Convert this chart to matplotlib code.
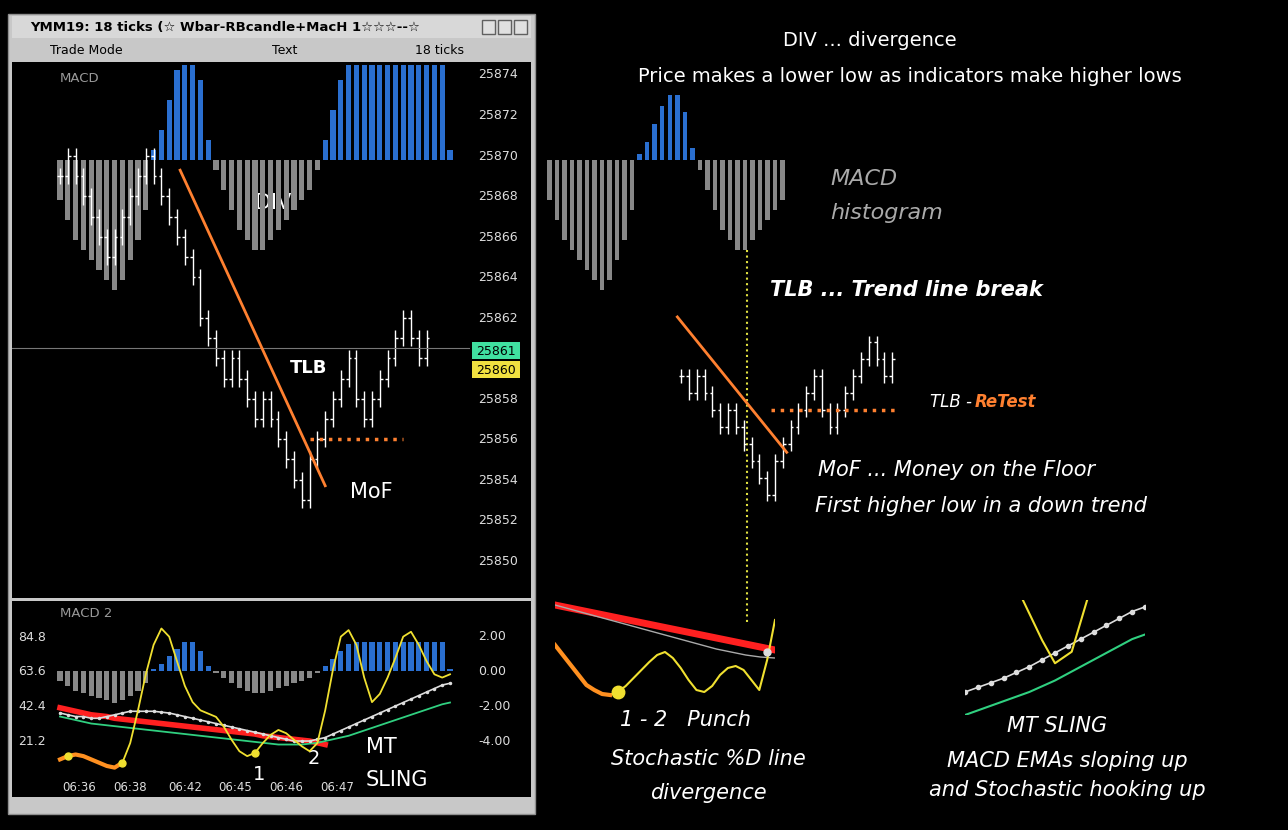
import matplotlib
matplotlib.use("Agg")
import matplotlib.pyplot as plt
from matplotlib.patches import Rectangle

W, H = 1288, 830

# price closes, main chart (one per bar)
closes = [25869, 25870, 25869, 25868, 25867, 25866, 25865, 25866, 25867, 25868,
          25869, 25870, 25869, 25868, 25867, 25866, 25865, 25864, 25862, 25861,
          25860, 25859, 25860, 25859, 25858, 25857, 25858, 25857, 25856, 25855,
          25854, 25853, 25855, 25856, 25857, 25858, 25859, 25860, 25858, 25857,
          25858, 25859, 25860, 25861, 25862, 25861, 25860, 25861]
# MACD histogram, main chart
hist = [-4, -6, -8, -9, -10, -11, -12, -13, -12, -10, -8, -5,
        1, 3, 6, 9, 12, 12, 8, 2,
        -1, -3, -5, -7, -8, -9, -9, -8, -7, -6, -5, -4, -3, -1,
        2, 5, 8, 11, 12, 12, 12, 12, 12, 12, 12, 12, 12, 12, 12, 12, 1]
# lower panel
hist2 = [h * 0.14 for h in hist]
stoch = [10, 12, 13, 12, 10, 8, 6, 5, 8, 20, 40, 62, 80, 90, 85, 70, 55, 45, 40,
         38, 36, 30, 22, 15, 12, 14, 20, 25, 28, 26, 22, 18, 15, 20, 40, 65, 85, 89,
         80, 60, 45, 50, 60, 72, 85, 88, 80, 70, 62, 60, 62]
ema_slow = [-2.1, -2.2, -2.3, -2.4, -2.5, -2.55, -2.6, -2.7, -2.75, -2.8, -2.85, -2.9,
            -2.95, -3.0, -3.05, -3.1, -3.15, -3.2, -3.25, -3.3, -3.35, -3.4, -3.45,
            -3.5, -3.55, -3.6, -3.7, -3.75, -3.8, -3.85, -3.9, -3.95, -4.0, -4.1, -4.2]
ema_fast = [-2.4, -2.5, -2.6, -2.6, -2.7, -2.7, -2.6, -2.5, -2.4, -2.3, -2.3, -2.3,
            -2.3, -2.35, -2.4, -2.5, -2.6, -2.7, -2.8, -2.9, -3.0, -3.1, -3.2, -3.3,
            -3.4, -3.5, -3.6, -3.7, -3.8, -3.9, -4.0, -4.0, -4.0, -3.9, -3.8, -3.6,
            -3.4, -3.2, -3.0, -2.8, -2.6, -2.4, -2.2, -2.0, -1.8, -1.6, -1.4, -1.2,
            -1.0, -0.8, -0.7]
ema_sig = [-2.6, -2.7, -2.8, -2.9, -3.0, -3.05, -3.1, -3.15, -3.2, -3.25, -3.3, -3.35,
           -3.4, -3.45, -3.5, -3.55, -3.6, -3.65, -3.7, -3.75, -3.8, -3.85, -3.9,
           -3.95, -4.0, -4.05, -4.1, -4.15, -4.2, -4.2, -4.2, -4.2, -4.15, -4.1, -4.0,
           -3.9, -3.8, -3.7, -3.55, -3.4, -3.25, -3.1, -2.95, -2.8, -2.65, -2.5, -2.35,
           -2.2, -2.05, -1.9, -1.8]
# right-hand zoomed stochastic (0 = top of panel, 100 = bottom)
punch_stoch = [45, 55, 65, 75, 85, 90, 94, 95, 92, 86, 78, 70, 62, 55, 52, 58, 68, 80,
               90, 92, 86, 75, 68, 66, 70, 80, 90, 60, 20]
punch_red = [5, 8, 11, 14, 17, 20, 23, 26, 29, 32, 35, 38, 41, 44, 47, 50]
punch_gray = [5, 9, 13, 17, 21, 25, 29, 33, 37, 41, 45, 49, 52, 55, 57, 58]
sling_white = [80, 76, 72, 68, 63, 58, 52, 46, 40, 34, 28, 22, 16, 10, 6]
sling_green = [100, 96, 92, 88, 84, 80, 75, 70, 64, 58, 52, 46, 40, 34, 30]
sling_yellow = [0, 35, 55, 45, 0]
price_ticks = [25874, 25872, 25870, 25868, 25866, 25864, 25862, 25858, 25856,
               25854, 25852, 25850]
stoch_ticks = [84.8, 63.6, 42.4, 21.2]
macd_ticks = [2.0, 0.0, -2.0, -4.0]
time_labels = ["06:36", "06:38", "06:42", "06:45", "06:46", "06:47"]
time_idx = [2.5, 9, 16, 22.5, 29, 35.5]

fig = plt.figure(figsize=(W / 100, H / 100), dpi=100, facecolor="black")


def px_axes(x0, y0, x1, y1, z=1):
    ax = fig.add_axes([x0 / W, 1 - y1 / H, (x1 - x0) / W, (y1 - y0) / H], zorder=z)
    ax.set_facecolor("none")
    ax.axis("off")
    return ax


def idx_lim(x0, x1, start=60, step=7.8):
    return ((x0 - start) / step, (x1 - start) / step)


def draw_bars(ax, vals, color="white"):
    prev = vals[0]
    for i, c in enumerate(vals):
        lo, hi = min(prev, c) - 0.4, max(prev, c) + 0.4
        ax.vlines(i, lo, hi, color=color, lw=1)
        ax.hlines(prev, i - 0.35, i, color=color, lw=1)
        ax.hlines(c, i, i + 0.35, color=color, lw=1)
        prev = c


# window frame
bg = px_axes(0, 0, W, H, z=0)
bg.set_xlim(0, W)
bg.set_ylim(H, 0)
bg.add_patch(Rectangle((8, 14), 527, 800, fc="#c8c8c8", ec="#909090"))
bg.add_patch(Rectangle((12, 62), 519, 536, fc="black"))
bg.add_patch(Rectangle((12, 601), 519, 196, fc="black"))
bg.add_patch(Rectangle((12, 16), 519, 22, fc="#d8d8d8"))
bg.text(30, 27, "YMM19: 18 ticks (\u2606 Wbar-RBcandle+MacH 1\u2606\u2606\u2606--\u2606",
        fontsize=9.5, fontweight="bold", va="center")
bg.text(50, 51, "Trade Mode", fontsize=9, va="center")
bg.text(272, 51, "Text", fontsize=9, va="center")
bg.text(415, 51, "18 ticks", fontsize=9, va="center")
for bx in (482, 498, 514):
    bg.add_patch(Rectangle((bx, 20), 13, 14, fc="#e0e0e0", ec="#606060"))

# main price chart
ax = px_axes(12, 65, 470, 597, z=2)
ax.set_xlim(*idx_lim(12, 470))
ax.set_ylim(25848.2, 25874.5)
draw_bars(ax, closes)
ax.axhline(25860.5, color="#777777", lw=0.8)
ax.plot([15.4, 34], [25869.3, 25853.7], color="#ff8030", lw=2)
ax.plot([32, 44], [25856, 25856], color="#ff8030", lw=2.5, ls=":")

axh = px_axes(12, 65, 470, 597, z=1)
axh.set_xlim(*idx_lim(12, 470))
axh.set_ylim(-43.7, 9.5)
cols = ["#2a6fd0" if h > 0 else "#888888" for h in hist]
axh.bar(range(len(hist)), hist, width=0.65, color=cols)

for p in price_ticks:
    y = 75 + (25874 - p) * 20.25
    bg.text(478, y, str(p), color="#dddddd", fontsize=9, va="center")
bg.add_patch(Rectangle((472, 342), 48, 17, fc="#40e0a0"))
bg.add_patch(Rectangle((472, 361), 48, 17, fc="#f0e040"))
bg.text(476, 351, "25861", fontsize=9, va="center")
bg.text(476, 370, "25860", fontsize=9, va="center")
bg.text(60, 78, "MACD", color="#999999", fontsize=9.5, va="center")

# lower panel
lx = idx_lim(12, 530)
a2 = px_axes(12, 600, 530, 800, z=1)
a2.set_xlim(*lx)
a2.set_ylim(-7.37, 4.06)
cols2 = ["#2a6fd0" if h > 0 else "#888888" for h in hist2]
a2.bar(range(len(hist2)), hist2, width=0.65, color=cols2)
a2.plot(range(len(ema_slow)), ema_slow, color="#ff2020", lw=4)
a2.plot(range(len(ema_sig)), ema_sig, color="#30d080", lw=1.3)
a2.plot(range(len(ema_fast)), ema_fast, color="#dddddd", lw=1.2, marker=".", ms=3)
a3 = px_axes(12, 600, 530, 800, z=2)
a3.set_xlim(*lx)
a3.set_ylim(-14.8, 107.4)
a3.plot(range(len(stoch)), stoch, color="#f0e030", lw=1.3)
a3.plot(range(9), stoch[:9], color="#ff9020", lw=3)
a3.plot([1, 8, 25], [stoch[1], stoch[8], stoch[25]], "o", color="#f0e030", ms=5)
bg.text(60, 613, "MACD 2", color="#999999", fontsize=9.5, va="center")
for v in stoch_ticks:
    bg.text(18, 775.7 - v * 1.635, f"{v}", color="#dddddd", fontsize=9, va="center")
for v in macd_ticks:
    bg.text(478, 671 - v * 17.5, f"{v:.2f}", color="#dddddd", fontsize=9, va="center")
for t, i in zip(time_labels, time_idx):
    bg.text(60 + 7.8 * i, 787, t, color="#dddddd", fontsize=8.5, ha="center", va="center")

# right: MACD histogram copy
rh = px_axes(545, 65, 790, 597, z=1)
rh.set_xlim(-0.6, 32)
rh.set_ylim(-43.7, 9.5)
sub = [min(h * 0.6, 6.5) if h > 0 else h for h in hist[:32]]
rh.bar(range(len(sub)), sub, width=0.6,
       color=["#2a6fd0" if h > 0 else "#888888" for h in sub])

# right: price bars copy
rp = px_axes(675, 300, 900, 520, z=2)
rp.set_xlim(-0.8, 28)
rp.set_ylim(25851.5, 25864.5)
draw_bars(rp, closes[20:], color="white")
rp.plot([-0.5, 13.5], [25863.5, 25855.5], color="#ff8030", lw=2)
rp.plot([11.5, 30], [25858, 25858], color="#ff8030", lw=2.5, ls=":")

# right: stochastic divergence
rs = px_axes(555, 600, 775, 700, z=2)
rs.set_xlim(0, 28)
rs.set_ylim(100, 0)
n = len(punch_red)
step = 28 / (n - 1)
rs.plot([i * step for i in range(n)], punch_red, color="#ff2020", lw=5)
rs.plot([i * step for i in range(n)], punch_gray, color="#aaaaaa", lw=1)
rs.plot(range(len(punch_stoch)), punch_stoch, color="#f0e030", lw=1.5)
rs.plot(range(8), punch_stoch[:8], color="#ff9020", lw=3)
rs.plot([8], [punch_stoch[8]], "o", color="#f0e030", ms=9)
rs.plot([27], [punch_red[-1] + 2], "o", color="#dddddd", ms=5)

# right: MT SLING
rm = px_axes(965, 600, 1145, 715, z=2)
rm.set_xlim(0, 14)
rm.set_ylim(100, 0)
rm.plot(range(len(sling_white)), sling_white, color="#dddddd", lw=1.2, marker="o", ms=3)
rm.plot(range(len(sling_green)), sling_green, color="#30d080", lw=1.5)
rm.plot([4.5, 6, 7, 8.3, 9.5], sling_yellow, color="#f0e030", lw=1.5)

bg.vlines(747, 250, 625, color="#e0e040", lw=1.5, ls=":")

# annotations
txt = dict(color="white", va="center")
bg.text(870, 40, "DIV ... divergence", fontsize=14, ha="center", **txt)
bg.text(910, 76, "Price makes a lower low as indicators make higher lows", fontsize=14,
        ha="center", **txt)
bg.text(830, 179, "MACD", fontsize=16, style="italic", color="#aaaaaa", va="center")
bg.text(830, 213, "histogram", fontsize=16, style="italic", color="#aaaaaa", va="center")
bg.text(770, 290, "TLB ... Trend line break", fontsize=15, style="italic", fontweight="bold", **txt)
bg.text(930, 402, "TLB -", fontsize=12, style="italic", **txt)
bg.text(975, 402, "ReTest", fontsize=12, style="italic", fontweight="bold", color="#ff8030",
        va="center")
bg.text(818, 470, "MoF ... Money on the Floor", fontsize=15, style="italic", **txt)
bg.text(815, 506, "First higher low in a down trend", fontsize=15, style="italic", **txt)
bg.text(620, 720, "1 - 2   Punch", fontsize=15, style="italic", **txt)
bg.text(708, 759, "Stochastic %D line", fontsize=15, style="italic", ha="center", **txt)
bg.text(708, 793, "divergence", fontsize=15, style="italic", ha="center", **txt)
bg.text(1057, 726, "MT SLING", fontsize=15, style="italic", ha="center", **txt)
bg.text(1067, 761, "MACD EMAs sloping up", fontsize=15, style="italic", ha="center", **txt)
bg.text(1067, 790, "and Stochastic hooking up", fontsize=15, style="italic", ha="center", **txt)
bg.text(255, 203, "DIV", fontsize=15, **txt)
bg.text(290, 368, "TLB", fontsize=13, fontweight="bold", **txt)
bg.text(350, 492, "MoF", fontsize=15, **txt)
bg.text(253, 774, "1", fontsize=14, **txt)
bg.text(308, 758, "2", fontsize=14, **txt)
bg.text(366, 747, "MT", fontsize=15, **txt)
bg.text(366, 780, "SLING", fontsize=15, **txt)

fig.savefig("out.png", dpi=100, facecolor="black")
